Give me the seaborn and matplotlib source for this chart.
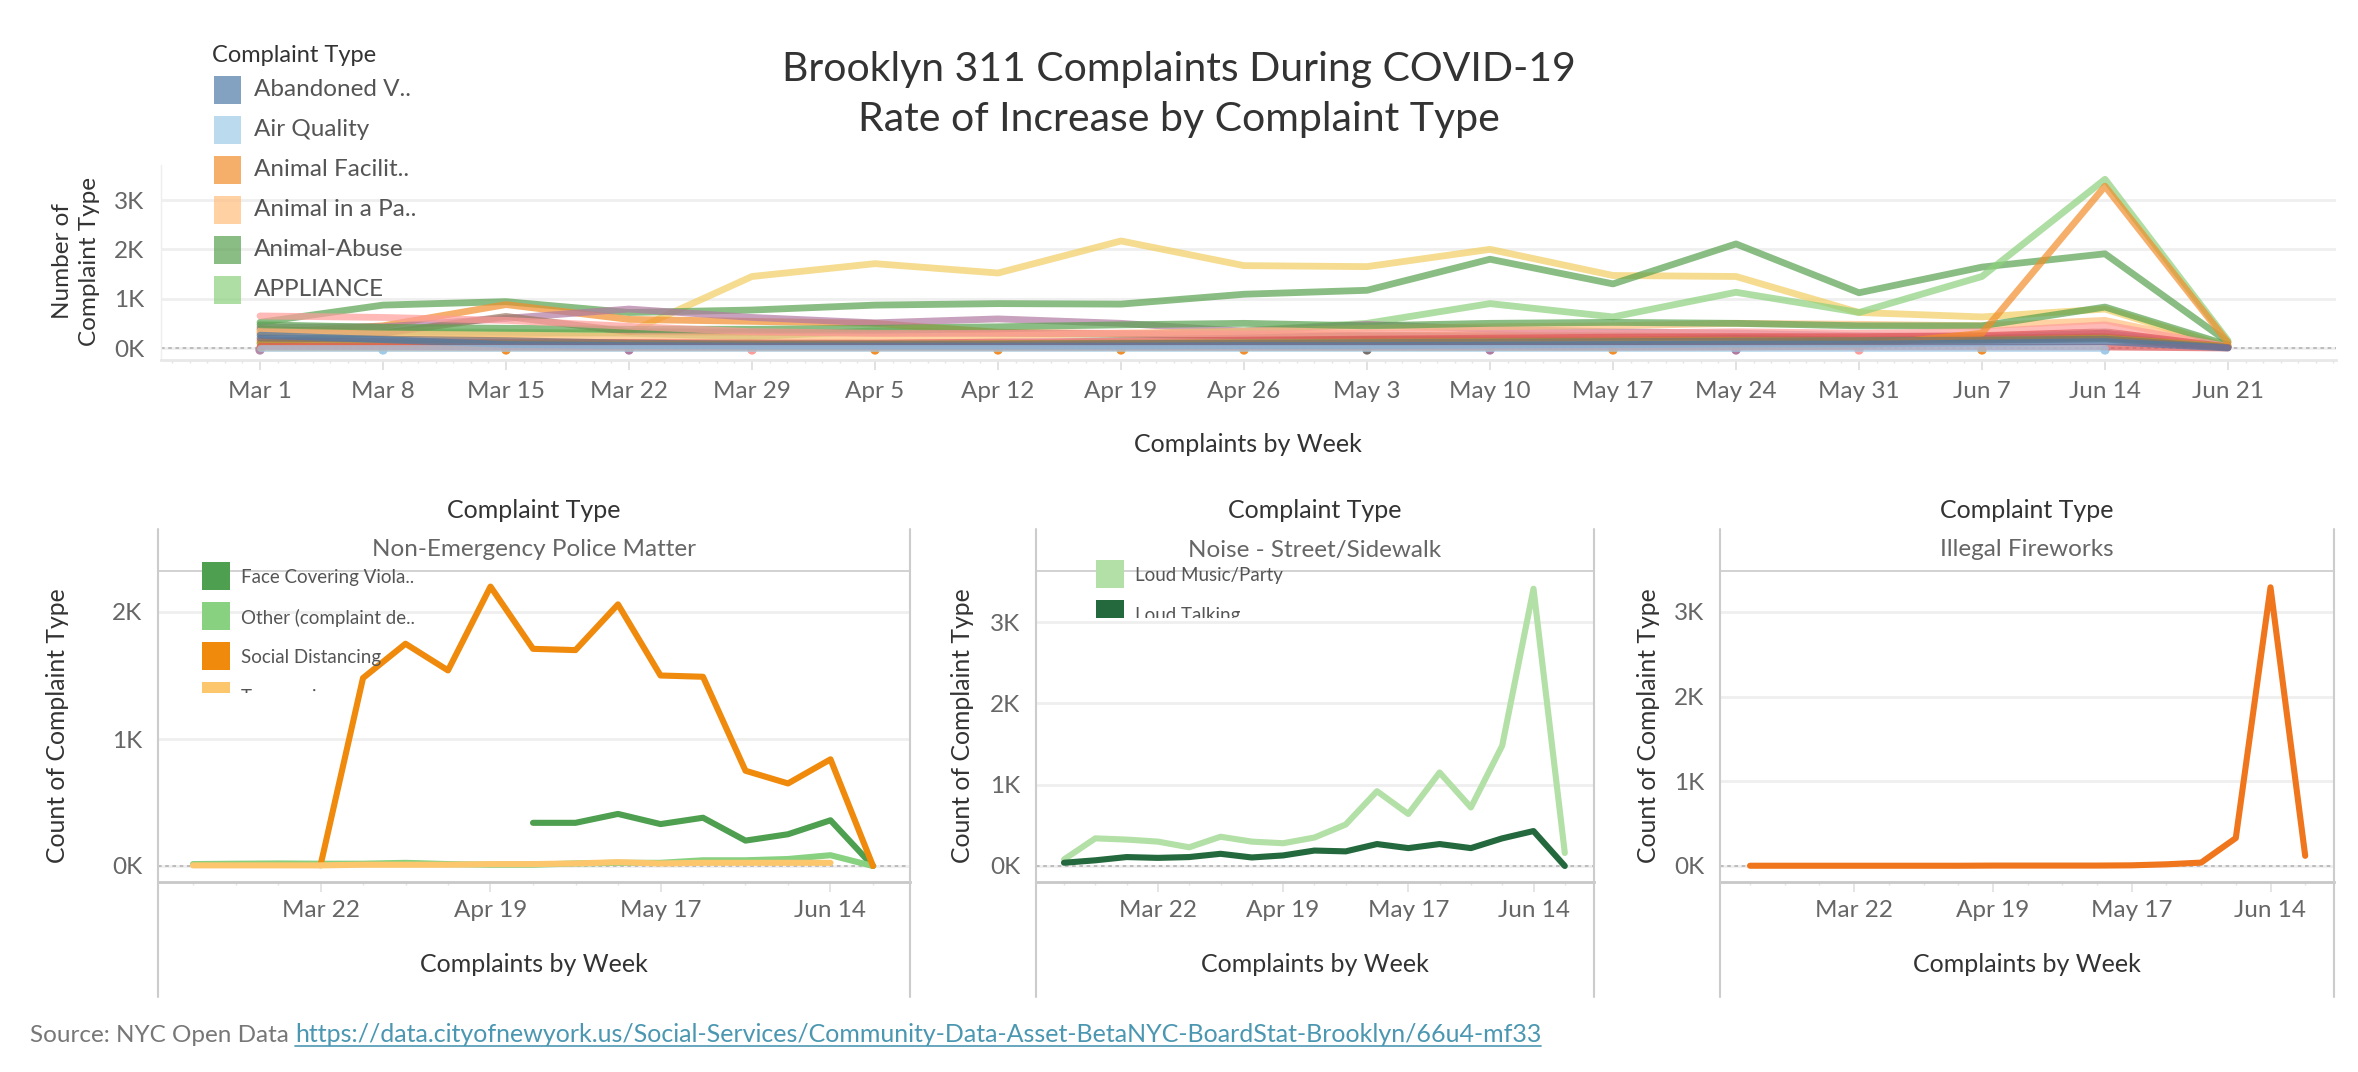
import numpy as np
import pandas as pd
import matplotlib
matplotlib.use("Agg")
import matplotlib.pyplot as plt
import seaborn as sns
from matplotlib.patches import Rectangle
from matplotlib.lines import Line2D
from matplotlib.transforms import Bbox, TransformedBbox
from matplotlib.ticker import FuncFormatter

W, H = 2358, 1072

# ---------------- data ----------------
weeks = ['Mar 1', 'Mar 8', 'Mar 15', 'Mar 22', 'Mar 29', 'Apr 5', 'Apr 12', 'Apr 19',
         'Apr 26', 'May 3', 'May 10', 'May 17', 'May 24', 'May 31', 'Jun 7', 'Jun 14', 'Jun 21']

# top chart: weekly counts per complaint type (many series, Tableau 20 colours)
nepm_yellow = [330, 300, 280, 320, 1450, 1710, 1520, 2170, 1670, 1650, 2000, 1470, 1450, 720, 630, 790, 20]
green_mid = [520, 870, 940, 720, 770, 870, 900, 890, 1090, 1170, 1800, 1300, 2110, 1120, 1640, 1910, 120]
noise_street_green = [90, 330, 320, 300, 230, 350, 300, 280, 350, 500, 900, 630, 1130, 720, 1450, 3420, 150]
fireworks_orange = [5, 5, 5, 5, 5, 5, 5, 8, 8, 8, 8, 10, 20, 40, 300, 3280, 110]
orange_early = [300, 450, 880, 580, 540, 500, 320, 290, 280, 250, 270, 230, 230, 210, 200, 240, 20]
mauve = [420, 430, 600, 790, 620, 510, 590, 500, 340, 480, 380, 330, 300, 250, 230, 300, 20]
gray_brown = [380, 300, 640, 330, 320, 300, 300, 280, 250, 250, 240, 250, 220, 200, 200, 220, 20]
pink = [650, 620, 560, 440, 330, 300, 300, 300, 280, 310, 300, 300, 330, 300, 330, 470, 30]
green_low = [470, 420, 400, 380, 380, 400, 430, 470, 500, 450, 500, 520, 500, 450, 450, 830, 60]
light_orange = [350, 300, 260, 230, 220, 220, 250, 300, 340, 400, 430, 450, 500, 480, 450, 560, 40]
salmon = [150, 130, 120, 110, 100, 100, 120, 140, 160, 180, 200, 220, 230, 230, 250, 330, 20]
olive = [100, 90, 90, 80, 80, 80, 90, 100, 110, 120, 130, 140, 150, 150, 160, 200, 30]
slate = [200, 180, 150, 100, 80, 80, 80, 90, 100, 110, 120, 130, 140, 150, 160, 180, 10]
blue = [260, 170, 70, 50, 40, 40, 40, 40, 50, 50, 60, 70, 80, 80, 100, 130, 0]
red = [30, 30, 20, 20, 20, 20, 20, 20, 20, 20, 20, 20, 20, 20, 20, 20, 0]
light_blue = [5, 5, 5, 5, 5, 5, 5, 5, 5, 5, 5, 5, 5, 5, 5, 5]

top_lines = [
    ('Non-Emergency Police Matter', '#f1ce63', nepm_yellow),
    ('green_mid', '#59a14f', green_mid),
    ('Noise - Street/Sidewalk', '#8cd17d', noise_street_green),
    ('orange_early', '#f28e2b', orange_early),
    ('mauve', '#b07aa1', mauve),
    ('gray_brown', '#9d7660', gray_brown),
    ('light_orange', '#ffbe7d', light_orange),
    ('green_low', '#59a14f', green_low),
    ('pink', '#ff9d9a', pink),
    ('salmon', '#e15759', salmon),
    ('olive', '#b6992d', olive),
    ('Illegal Fireworks', '#f28e2b', fireworks_orange),
    ('slate', '#79706e', slate),
    ('red', '#e15759', red),
    ('blue', '#4e79a7', blue),
    ('light_blue', '#a0cbe8', light_blue),
]

# single-point marks sitting on the zero line
dot_colors = ['#b48aa8', '#a0cbe8', '#f28e2b', '#b07aa1', '#ff9d9a', '#f28e2b', '#f28e2b', '#f28e2b',
              '#f28e2b', '#79706e', '#b07aa1', '#f28e2b', '#b07aa1', '#ff9d9a', '#f28e2b', '#a0cbe8']
dot_values = [-40, -40, -40, -40, -40, -40, -40, -40, -40, -40, -40, -40, -40, -40, -40, -40]

legend_top_labels = ['Abandoned V..', 'Air Quality', 'Animal Facilit..', 'Animal in a Pa..',
                     'Animal-Abuse', 'APPLIANCE']
legend_top_colors = ['#4e79a7', '#a0cbe8', '#f28e2b', '#ffbe7d', '#59a14f', '#8cd17d']

# panel 1: Non-Emergency Police Matter
face_covering = [None, None, None, None, None, None, None, None, 340, 340, 410, 330, 380, 200, 250, 360, 0]
other_desc = [15, 18, 20, 18, 18, 25, 15, 10, 10, 20, 25, 25, 45, 45, 55, 85, 0]
social_distancing = [None, None, None, 5, 1480, 1750, 1540, 2200, 1710, 1700, 2060, 1500, 1490, 750, 650, 840, 0]
trespassing = [5, 5, 5, 5, 10, 10, 10, 15, 15, 20, 30, 20, 25, 25, 25, 25, None]
p1_labels = ['Face Covering Viola..', 'Other (complaint de..', 'Social Distancing', 'Trespassing']
p1_colors = ['#4e9f50', '#87d180', '#ef8a0c', '#fcc66d']

# panel 2: Noise - Street/Sidewalk
loud_music = [80, 340, 325, 300, 230, 360, 300, 280, 350, 510, 920, 640, 1150, 720, 1480, 3410, 160]
loud_talking = [40, 70, 110, 100, 110, 150, 105, 130, 190, 180, 270, 220, 270, 220, 340, 430, 0]
p2_labels = ['Loud Music/Party', 'Loud Talking']
p2_colors = ['#b3e0a6', '#24693d']

# panel 3: Illegal Fireworks
fireworks = [3, 3, 3, 3, 3, 3, 3, 5, 5, 5, 5, 8, 20, 40, 330, 3290, 120]
p3_color = '#f0761e'

# ---------------- style ----------------
sns.set_theme(style='white')
plt.rcParams['font.family'] = ['Lato', 'DejaVu Sans']

DARK = '#333333'
MID = '#666666'
GRID = '#efefef'
FS = 17.5  # tick labels, axis titles


def fx(px):
    return px / W


def fy(py):
    return 1 - py / H


def add_axes(l, t, r, b):
    return fig.add_axes([fx(l), fy(b), fx(r - l), (b - t) / H])


def long_df(names, series):
    rows = []
    for name, vals in zip(names, series):
        for i, v in enumerate(vals):
            if v is not None:
                rows.append({'week': i, 'count': v, 'type': name})
    return pd.DataFrame(rows)


kfmt = FuncFormatter(lambda v, p: f'{int(round(v / 1000))}K')

fig = plt.figure(figsize=(W / 100, H / 100), dpi=100)

# ---------------- top chart ----------------
ax = add_axes(161, 165, 2336, 360)
names = [n for n, c, v in top_lines]
df_top = long_df(names, [v for n, c, v in top_lines])
pal = {n: c for n, c, v in top_lines}
ax.axhline(0, color='#b8b8b8', lw=1.3, ls=(0, (2, 2)), zorder=1)
ax.scatter(range(len(dot_values)), dot_values, c=dot_colors, s=45, zorder=1.5, lw=0)
sns.lineplot(data=df_top, x='week', y='count', hue='type', hue_order=names, palette=pal,
             lw=4.9, alpha=0.7, legend=False, sort=False, ax=ax,
             solid_capstyle='round', solid_joinstyle='round')
ax.set_xlim((161 - 260) / 123, (2336 - 260) / 123)
ax.set_ylim(-243, 3710)
ax.set_yticks([0, 1000, 2000, 3000])
ax.yaxis.set_major_formatter(kfmt)
ax.set_xticks(range(len(weeks)))
ax.set_xticklabels(weeks)
ax.set_xticks(np.arange(-5, 7 * 16 + 7) / 7, minor=True)
ax.yaxis.grid(True, color=GRID, lw=2)
ax.tick_params(axis='y', length=8, width=1.5, color='#ececec', labelcolor=MID, labelsize=FS, pad=4)
ax.tick_params(axis='x', which='major', bottom=True, length=7, width=1.2, color='#dcdcdc',
               labelcolor=MID, labelsize=FS, pad=8)
ax.tick_params(axis='x', which='minor', bottom=True, length=2.5, width=1, color='#e4e4e4')
for s in ['top', 'right']:
    ax.spines[s].set_visible(False)
ax.spines['bottom'].set_color('#e8e8e8')
ax.spines['bottom'].set_linewidth(2)
ax.spines['left'].set_color('#eeeeee')
ax.spines['left'].set_linewidth(1)
ax.set_xlabel('')
ax.set_ylabel('')

fig.text(fx(76), fy(261), 'Number of\nComplaint Type', rotation=90, ha='center', va='center',
         fontsize=FS, color=DARK, linespacing=1.3)
fig.text(fx(1248), fy(444), 'Complaints by Week', ha='center', va='center', fontsize=18, color=DARK)

# titles
fig.text(0.5, fy(69), 'Brooklyn 311 Complaints During COVID-19', ha='center', va='center',
         fontsize=29.5, color=DARK)
fig.text(0.5, fy(120), 'Rate of Increase by Complaint Type', ha='center', va='center',
         fontsize=29.5, color=DARK)

# top legend
fig.text(fx(212), fy(56), 'Complaint Type', ha='left', va='center', fontsize=17, color=DARK)
for i, (lab, col) in enumerate(zip(legend_top_labels, legend_top_colors)):
    top = 76 + 40 * i
    fig.add_artist(Rectangle((fx(214), fy(top + 28)), fx(27), 28 / H, transform=fig.transFigure,
                             facecolor=col, alpha=0.7, edgecolor='none'))
    fig.text(fx(254), fy(top + 14), lab, ha='left', va='center', fontsize=17.5, color='#555555')

# ---------------- bottom panels ----------------
panels = [
    dict(box=(158, 910), x0=193, step=42.5, k=127, titles='Non-Emergency Police Matter',
         yticks=[0, 1000, 2000], ylab_x=58,
         names=p1_labels, series=[face_covering, other_desc, social_distancing, trespassing],
         colors=p1_colors, leg_x=202, leg_top=562, leg_clip=693),
    dict(box=(1036, 1594), x0=1064, step=31.3, k=81.3, titles='Noise - Street/Sidewalk',
         yticks=[0, 1000, 2000, 3000], ylab_x=962,
         names=p2_labels, series=[loud_music, loud_talking],
         colors=p2_colors, leg_x=1096, leg_top=560, leg_clip=618),
    dict(box=(1720, 2334), x0=1750, step=34.7, k=84.7, titles='Illegal Fireworks',
         yticks=[0, 1000, 2000, 3000], ylab_x=1648,
         names=['Illegal Fireworks'], series=[fireworks],
         colors=[p3_color], leg_x=None),
]

PT, PB = 571, 882
for p in panels:
    l, r = p['box']
    axp = add_axes(l, PT, r, PB)
    dfp = long_df(p['names'], p['series'])
    axp.axhline(0, color='#b8b8b8', lw=1.3, ls=(0, (2, 2)), zorder=1)
    sns.lineplot(data=dfp, x='week', y='count', hue='type', hue_order=p['names'],
                 palette=dict(zip(p['names'], p['colors'])), lw=4.4, legend=False, sort=False,
                 ax=axp, solid_capstyle='round', solid_joinstyle='round')
    axp.set_xlim((l - p['x0']) / p['step'], (r - p['x0']) / p['step'])
    axp.set_ylim(-(PB - 866) / p['k'] * 1000, (866 - PT) / p['k'] * 1000)
    axp.set_yticks(p['yticks'])
    axp.yaxis.set_major_formatter(kfmt)
    axp.set_xticks([3, 7, 11, 15])
    axp.set_xticklabels([weeks[3], weeks[7], weeks[11], weeks[15]])
    axp.set_xticks([0, 1, 2, 4, 5, 6, 8, 9, 10, 12, 13, 14, 16], minor=True)
    axp.yaxis.grid(True, color=GRID, lw=2)
    axp.tick_params(axis='y', length=7.2, width=1.5, color='#ececec', labelcolor=MID,
                    labelsize=FS, pad=4)
    axp.tick_params(axis='x', which='major', bottom=True, length=7, width=1.2, color='#e0e0e0',
                    labelcolor=MID, labelsize=FS, pad=6)
    axp.tick_params(axis='x', which='minor', bottom=True, length=2.5, width=1, color='#e4e4e4')
    axp.spines['left'].set_visible(False)
    axp.spines['right'].set_visible(False)
    axp.spines['top'].set_color('#cfcfcf')
    axp.spines['top'].set_linewidth(1.3)
    axp.spines['bottom'].set_color('#c8c8c8')
    axp.spines['bottom'].set_linewidth(2)
    axp.set_xlabel('')
    axp.set_ylabel('')

    # frame verticals
    for xv in (l, r):
        fig.add_artist(Line2D([fx(xv), fx(xv)], [fy(529), fy(997)], transform=fig.transFigure,
                              color='#cccccc', lw=1.5))
    cx = (l + r) / 2
    fig.text(fx(cx), fy(511), 'Complaint Type', ha='center', va='center', fontsize=18, color=DARK)
    fig.text(fx(cx), fy(550), p['titles'], ha='center', va='center', fontsize=17.5, color=MID)
    fig.text(fx(cx), fy(964), 'Complaints by Week', ha='center', va='center', fontsize=18, color=DARK)
    fig.text(fx(p['ylab_x']), fy(726), 'Count of Complaint Type', rotation=90, ha='center',
             va='center', fontsize=17.8, color=DARK)

    # in-plot legend, cut off at the bottom like the scrolled Tableau legend
    if p['leg_x'] is not None:
        clip = TransformedBbox(Bbox.from_extents(fx(l), fy(p['leg_clip']), fx(r), fy(PT - 20)),
                               fig.transFigure)
        for i, (lab, col) in enumerate(zip(p['names'], p['colors'])):
            top = p['leg_top'] + 40 * i
            rect = Rectangle((fx(p['leg_x']), fy(top + 28)), fx(28), 28 / H,
                             transform=fig.transFigure, facecolor=col, edgecolor='none')
            fig.add_artist(rect)
            rect.set_clip_box(clip)
            rect.set_clip_on(True)
            t = fig.text(fx(p['leg_x'] + 39), fy(top + 16), lab, ha='left', va='center',
                         fontsize=13.5, color='#555555')
            t.set_clip_box(clip)
            t.set_clip_on(True)

# source line
src = fig.text(fx(30), fy(1035), 'Source: NYC Open Data ', ha='left', va='center',
               fontsize=17.5, color='#777777')
fig.canvas.draw()
bb = src.get_window_extent()
link = fig.text(bb.x1 / W, fy(1035),
                'https://data.cityofnewyork.us/Social-Services/Community-Data-Asset-BetaNYC-BoardStat-Brooklyn/66u4-mf33',
                ha='left', va='center', fontsize=18, color='#4b97b1')
fig.canvas.draw()
lb = link.get_window_extent()
fig.add_artist(Line2D([lb.x0 / W, lb.x1 / W], [(lb.y0 + 1) / H, (lb.y0 + 1) / H],
                      transform=fig.transFigure, color='#4b97b1', lw=1.2))

fig.savefig('out.png', dpi=100)
